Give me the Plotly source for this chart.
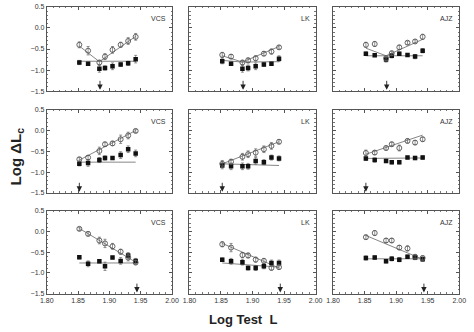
import plotly.graph_objects as go

# Log test luminance values (shared by all panels)
log_test_L = [1.852, 1.866, 1.884, 1.893, 1.905, 1.918, 1.930, 1.942]

observers = ["VCS", "LK", "AJZ"]
arrow_x = [1.885, 1.852, 1.944]  # adapting level per row

# Open-circle series (row, observer)
open_vals = [
    [[-0.40, -0.54, -0.82, -0.68, -0.52, -0.40, -0.31, -0.21],
     [-0.64, -0.68, -0.82, -0.77, -0.72, -0.61, -0.56, -0.46],
     [-0.40, -0.38, -0.72, -0.60, -0.46, -0.35, -0.32, -0.21]],
    [[-0.69, -0.65, -0.49, -0.33, -0.31, -0.21, -0.12, -0.01],
     [-0.80, -0.75, -0.63, -0.57, -0.53, -0.45, -0.37, -0.27],
     [-0.54, -0.53, -0.42, -0.33, -0.42, -0.25, -0.29, -0.21]],
    [[0.06, -0.06, -0.22, -0.29, -0.36, -0.49, -0.63, -0.75],
     [-0.31, -0.39, -0.57, -0.58, -0.68, -0.71, -0.88, -0.86],
     [-0.14, -0.04, -0.22, -0.22, -0.39, -0.41, -0.61, -0.64]],
]
open_err = [
    [[0.07, 0.10, 0.05, 0.07, 0.08, 0.06, 0.08, 0.08],
     [0.06, 0.05, 0.05, 0.06, 0.06, 0.05, 0.06, 0.04],
     [0.06, 0.06, 0.05, 0.05, 0.05, 0.04, 0.04, 0.06]],
    [[0.04, 0.05, 0.09, 0.05, 0.05, 0.10, 0.08, 0.04],
     [0.08, 0.06, 0.08, 0.08, 0.09, 0.08, 0.08, 0.05],
     [0.07, 0.05, 0.05, 0.05, 0.07, 0.05, 0.05, 0.05]],
    [[0.04, 0.05, 0.08, 0.10, 0.07, 0.06, 0.08, 0.05],
     [0.06, 0.10, 0.06, 0.06, 0.06, 0.06, 0.05, 0.05],
     [0.05, 0.06, 0.05, 0.05, 0.05, 0.06, 0.05, 0.05]],
]

# Filled-square series (row, observer)
filled_vals = [
    [[-0.82, -0.85, -0.97, -0.95, -0.91, -0.87, -0.84, -0.74],
     [-0.79, -0.85, -0.97, -0.95, -0.91, -0.87, -0.85, -0.73],
     [-0.61, -0.65, -0.75, -0.66, -0.61, -0.64, -0.68, -0.54]],
    [[-0.80, -0.78, -0.71, -0.66, -0.66, -0.59, -0.45, -0.55],
     [-0.84, -0.86, -0.86, -0.86, -0.73, -0.76, -0.65, -0.67],
     [-0.67, -0.71, -0.73, -0.76, -0.76, -0.65, -0.66, -0.65]],
    [[-0.62, -0.78, -0.72, -0.84, -0.63, -0.71, -0.58, -0.71],
     [-0.68, -0.72, -0.74, -0.88, -0.88, -0.84, -0.76, -0.76],
     [-0.64, -0.63, -0.72, -0.66, -0.68, -0.61, -0.63, -0.67]],
]
filled_err = [
    [[0.05, 0.03, 0.08, 0.05, 0.08, 0.04, 0.05, 0.09],
     [0.06, 0.04, 0.08, 0.07, 0.08, 0.04, 0.04, 0.07],
     [0.04, 0.03, 0.06, 0.05, 0.04, 0.03, 0.05, 0.05]],
    [[0.05, 0.08, 0.06, 0.05, 0.03, 0.08, 0.08, 0.08],
     [0.08, 0.08, 0.08, 0.07, 0.08, 0.06, 0.06, 0.06],
     [0.05, 0.05, 0.04, 0.04, 0.04, 0.03, 0.04, 0.04]],
    [[0.04, 0.07, 0.04, 0.10, 0.03, 0.08, 0.07, 0.06],
     [0.04, 0.07, 0.07, 0.05, 0.06, 0.06, 0.07, 0.07],
     [0.05, 0.04, 0.04, 0.05, 0.05, 0.04, 0.05, 0.05]],
]

# Model fits: x nodes and y values for each panel
fit_open_x = [[1.852, 1.884, 1.942], [1.852, 1.942], [1.852, 1.942]]
fit_open_y = [
    [[-0.43, -0.80, -0.20], [-0.66, -0.81, -0.44], [-0.48, -0.66, -0.27]],
    [[-0.71, 0.00], [-0.80, -0.27], [-0.57, -0.11]],
    [[0.07, -0.74], [-0.29, -0.88], [-0.10, -0.67]],
]
fit_filled_x = [[1.852, 1.884, 1.942], [1.852, 1.942], [1.852, 1.942]]
fit_filled_y = [
    [[-0.79, -0.79, -0.79], [-0.77, -0.81, -0.80], [-0.66, -0.66, -0.66]],
    [[-0.76, -0.76], [-0.80, -0.84], [-0.67, -0.66]],
    [[-0.76, -0.76], [-0.76, -0.86], [-0.66, -0.66]],
]

arrow_top, arrow_tip = -1.22, -1.47

W, H = 474, 332
col_px = [(41, 170), (188, 318), (336, 466)]
row_px = [(3, 89), (108, 193), (211, 296)]

FONT = "Arial, Liberation Sans, sans-serif"

fig = go.Figure()
layout = dict(
    width=W, height=H,
    margin=dict(l=0, r=0, t=0, b=0),
    paper_bgcolor="white", plot_bgcolor="white",
    showlegend=False,
    font=dict(family=FONT, size=7, color="#333333"),
)
annotations = []

for r in range(3):
    for c in range(3):
        k = r * 3 + c + 1
        xa = "xaxis" if k == 1 else f"xaxis{k}"
        ya = "yaxis" if k == 1 else f"yaxis{k}"
        xref = "x" if k == 1 else f"x{k}"
        yref = "y" if k == 1 else f"y{k}"
        x0, x1 = col_px[c]
        y0, y1 = row_px[r]
        layout[xa] = dict(
            domain=[x0 / W, x1 / W], anchor=yref, range=[1.80, 2.00],
            dtick=0.05, tick0=1.80, tickformat=".2f",
            showticklabels=(r == 2),
            ticks="inside", ticklen=3, tickwidth=0.8, tickcolor="#555",
            minor=dict(ticks="inside", ticklen=1.5, dtick=0.01, tickcolor="#777"),
            showline=True, linecolor="#555", linewidth=0.9, mirror="allticks",
            showgrid=False, zeroline=False,
            tickfont=dict(family=FONT, size=7, color="#333"),
        )
        layout[ya] = dict(
            domain=[(H - y1) / H, (H - y0) / H], anchor=xref, range=[-1.5, 0.5],
            dtick=0.5, tick0=-1.5, tickformat=".1f",
            showticklabels=(c == 0),
            ticks="inside", ticklen=3, tickwidth=0.8, tickcolor="#555",
            minor=dict(ticks="inside", ticklen=1.5, dtick=0.1, tickcolor="#777"),
            showline=True, linecolor="#555", linewidth=0.9, mirror="allticks",
            showgrid=False, zeroline=False,
            tickfont=dict(family=FONT, size=7, color="#333"),
        )

        # fit curves
        fig.add_trace(go.Scatter(
            x=fit_open_x[r], y=fit_open_y[r][c], mode="lines",
            line=dict(color="#666", width=0.8), xaxis=xref, yaxis=yref))
        fig.add_trace(go.Scatter(
            x=fit_filled_x[r], y=fit_filled_y[r][c], mode="lines",
            line=dict(color="#666", width=0.8), xaxis=xref, yaxis=yref))

        # filled squares
        fig.add_trace(go.Scatter(
            x=log_test_L, y=filled_vals[r][c], mode="markers",
            marker=dict(symbol="square", size=4.5, color="#111"),
            error_y=dict(type="data", array=filled_err[r][c], color="#666",
                         thickness=0.7, width=1.5),
            xaxis=xref, yaxis=yref))
        # open circles
        fig.add_trace(go.Scatter(
            x=log_test_L, y=open_vals[r][c], mode="markers",
            marker=dict(symbol="circle-open", size=5, color="#555",
                        line=dict(width=0.9, color="#555")),
            error_y=dict(type="data", array=open_err[r][c], color="#666",
                         thickness=0.7, width=1.5),
            xaxis=xref, yaxis=yref))

        # observer label
        annotations.append(dict(
            x=1, y=1, xref=f"{xref} domain", yref=f"{yref} domain",
            xanchor="right", yanchor="top", xshift=-4, yshift=-6,
            text=observers[c], showarrow=False,
            font=dict(family=FONT, size=7, color="#333333")))
        # adapting-level arrow
        annotations.append(dict(
            x=arrow_x[r], y=arrow_tip, ax=arrow_x[r], ay=arrow_top,
            xref=xref, yref=yref, axref=xref, ayref=yref,
            text="", showarrow=True, arrowhead=2, arrowsize=1.2,
            arrowwidth=0.9, arrowcolor="#222"))

annotations.append(dict(
    x=10 / W, y=(H - 156) / H, xref="paper", yref="paper",
    xanchor="center", yanchor="middle",
    text="<b>Log ΔL<sub>c</sub></b>", textangle=-90, showarrow=False,
    font=dict(family=FONT, size=15, color="#222")))
annotations.append(dict(
    x=243 / W, y=(H - 322) / H, xref="paper", yref="paper",
    xanchor="center", yanchor="middle",
    text="<b>Log Test  L</b>", showarrow=False,
    font=dict(family=FONT, size=13, color="#222")))

layout["annotations"] = annotations
fig.update_layout(**layout)
fig.write_html("out.html")
